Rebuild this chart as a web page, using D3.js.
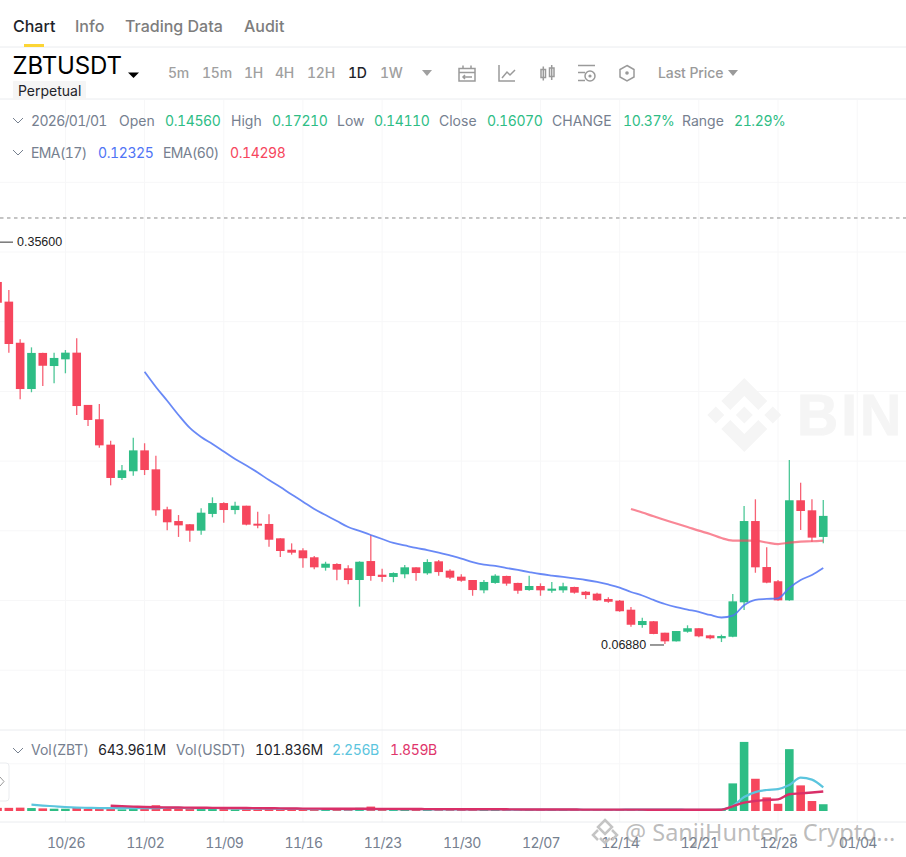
<!DOCTYPE html>
<html><head><meta charset="utf-8">
<script src="https://cdn.jsdelivr.net/npm/d3@7/dist/d3.min.js"></script>
<style>
html,body{margin:0;padding:0;background:#fff;overflow:hidden}
svg{display:block}
text{font-family:Inter,"Noto Sans",sans-serif;font-variant-numeric:tabular-nums}
</style></head><body>
<svg id="c" width="906" height="857"></svg>
<script>
const firstDate = "2025-10-20";
const open = [.3285,.3144,.2849,.2517,.2776,.2682,.2730,.2778,.2403,.2300,.2118,.1879,.1927,.2077,.1941,.1654,.1570,.1547,.1501,.1621,.1699,.1649,.1680,.1551,.1549,.1446,.1364,.1360,.1310,.1235,.1262,.1231,.1147,.1283,.1185,.1169,.1188,.1238,.1195,.1281,.1214,.1171,.1147,.1073,.1126,.1176,.1126,.1075,.1104,.1070,.1073,.1097,.1063,.1049,.1011,.0999,.0934,.0824,.0851,.0769,.0707,.0776,.0801,.0750,.0729,.0740,.0987,.1570,.1240,.1138,.1001,.1719,.1647,.1456];
const high = [.3299,.3228,.2874,.2816,.2778,.2778,.2797,.2881,.2403,.2410,.2146,.1972,.2168,.2128,.2039,.1673,.1613,.1549,.1661,.1740,.1704,.1709,.1680,.1637,.1618,.1446,.1410,.1375,.1319,.1278,.1267,.1253,.1281,.1470,.1228,.1202,.1255,.1238,.1296,.1291,.1224,.1188,.1147,.1147,.1188,.1178,.1128,.1178,.1123,.1133,.1128,.1099,.1068,.1056,.1023,.1004,.0953,.0877,.0853,.0769,.0781,.0822,.0801,.0755,.0755,.1047,.1678,.1726,.1382,.1147,.2008,.1845,.1726,.1721];
const low = [.3127,.2778,.2443,.2494,.2539,.2558,.2630,.2331,.2252,.2096,.1826,.1864,.1895,.1900,.1608,.1504,.1456,.1422,.1472,.1597,.1558,.1618,.1539,.1518,.1386,.1312,.1329,.1235,.1224,.1214,.1145,.1116,.0956,.1142,.1135,.1131,.1159,.1142,.1185,.1178,.1154,.1135,.1034,.1052,.1121,.1106,.1049,.1070,.1034,.1056,.1056,.1049,.1011,.0996,.0984,.0920,.0812,.0805,.0758,.0688,.0706,.0769,.0736,.0722,.0702,.0736,.0932,.1199,.1123,.0999,.0999,.1506,.1422,.1411];
const close = [.3136,.2840,.2517,.2776,.2684,.2740,.2778,.2395,.2295,.2113,.1879,.1934,.2077,.1936,.1647,.1561,.1539,.1501,.1630,.1699,.1649,.1680,.1544,.1537,.1436,.1355,.1343,.1303,.1238,.1264,.1221,.1147,.1278,.1176,.1169,.1197,.1238,.1197,.1276,.1204,.1164,.1142,.1075,.1133,.1178,.1121,.1070,.1104,.1073,.1085,.1102,.1056,.1039,.1001,.0991,.0923,.0826,.0853,.0760,.0707,.0781,.0801,.0743,.0729,.0745,.0994,.1570,.1238,.1128,.1001,.1719,.1642,.1451,.1607];
const ema17 = [.2641,.2532,.2433,.2331,.2238,.2173,.2123,.2069,.2015,.1969,.1918,.1864,.1814,.1760,.1709,.1656,.1613,.1570,.1527,.1499,.1470,.1441,.1413,.1395,.1377,.1362,.1344,.1323,.1301,.1276,.1258,.1248,.1233,.1219,.1204,.1190,.1179,.1169,.1158,.1147,.1133,.1115,.1093,.1061,.1036,.1004,.0975,.0953,.0935,.0918,.0896,.0878,.0891,.0966,.1004,.1011,.1016,.1090,.1147,.1183,.12325];
const ema60 = [.1656,.1631,.1604,.1578,.1552,.1527,.1501,.1477,.1448,.1430,.1429,.1429,.1416,.1405,.1415,.1422,.1425,.14298];
const volume = [.30,.30,.32,.28,.25,.22,.22,.33,.22,.24,.28,.16,.22,.20,.55,.35,.25,.22,.28,.24,.20,.15,.28,.18,.25,.22,.14,.18,.16,.12,.13,.16,.30,.42,.20,.15,.18,.16,.18,.17,.16,.14,.20,.16,.14,.14,.16,.12,.12,.10,.11,.12,.10,.12,.10,.14,.18,.10,.14,.12,.13,.10,.11,.08,.12,2.63,6.58,3.07,1.30,.69,5.89,2.44,.95,.644];
const volMaShort = [.60,.52,.45,.38,.33,.30,.28,.27,.27,.27,.27,.28,.29,.29,.28,.28,.27,.26,.24,.23,.22,.22,.21,.20,.19,.18,.17,.17,.16,.17,.18,.18,.17,.17,.17,.16,.16,.16,.15,.15,.15,.15,.14,.14,.14,.13,.13,.13,.13,.12,.12,.12,.12,.13,.13,.13,.13,.13,.12,.12,.12,.14,.48,1.33,1.8,2.0,2.09,2.47,3.18,2.99,2.256];
const volMaLong = [.50,.46,.42,.38,.36,.34,.33,.32,.31,.30,.29,.28,.28,.27,.26,.25,.24,.23,.23,.22,.22,.21,.21,.21,.20,.20,.19,.19,.18,.18,.18,.17,.17,.16,.16,.16,.15,.15,.15,.14,.14,.14,.13,.13,.13,.13,.13,.13,.12,.12,.12,.12,.12,.12,.12,.45,.79,.96,1.05,1.11,1.59,1.68,1.76,1.859];
const xTicks = ["2025-10-26","2025-11-02","2025-11-09","2025-11-16","2025-11-23","2025-11-30","2025-12-07","2025-12-14","2025-12-21","2025-12-28","2026-01-04"];
const priceGrid = [.40,.35,.30,.25,.20,.15,.10,.05];
const volGrid = [4.5];
const markLastPrice = .3744, markHigh = .356, markLow = .0688;
const tabs = ["Chart","Info","Trading Data","Audit"];
const intervals = ["5m","15m","1H","4H","12H","1D","1W"];

const GREEN="#2ebd85", RED="#f6465d", GRAY="#76808f", LINE="#eaecef", GRID="#f7f7f8";
const svg=d3.select("#c");
const parse=d3.utcParse("%Y-%m-%d"), fmt=d3.utcFormat("%m/%d");
const dates=d3.range(open.length).map(i=>d3.utcDay.offset(parse(firstDate),i));
const tickDates=xTicks.map(parse);
const x=d3.scaleUtc().domain([tickDates[0],tickDates[tickDates.length-1]]).range([65.4,857.2]);
const y=d3.scaleLinear().domain([.05,.40]).range([670.2,182.3]);
const yV=d3.scaleLinear().domain([0,7]).range([811,737.5]);

// grid
const grid=svg.append("g").attr("stroke",GRID).attr("stroke-width",1);
grid.selectAll(".v").data(tickDates).join("line").attr("x1",d=>x(d)).attr("x2",d=>x(d)).attr("y1",100).attr("y2",822);
grid.selectAll(".h").data(priceGrid).join("line").attr("x1",0).attr("x2",906).attr("y1",d=>y(d)).attr("y2",d=>y(d));
grid.selectAll(".vh").data(volGrid).join("line").attr("x1",0).attr("x2",906).attr("y1",d=>yV(d)).attr("y2",d=>yV(d));

// separators
[[47],[99],[730],[822]].forEach(([p])=>svg.append("line").attr("x1",0).attr("x2",906).attr("y1",p).attr("y2",p).attr("stroke",LINE));

// exchange watermark
const wm=svg.append("g").attr("fill","#f5f5f5").attr("transform","translate(744.3,415)");
wm.append("path").attr("d","M0,-37L23,-14L14,-5L0,-19L-14,-5L-23,-14Z M0,37L23,14L14,5L0,19L-14,5L-23,14Z M-37,0L-28.5,-8.5L-20,0L-28.5,8.5Z M37,0L28.5,-8.5L20,0L28.5,8.5Z M0,-8.5L8.5,0L0,8.5L-8.5,0Z");
svg.append("text").attr("x",797).attr("y",435).attr("font-size",57).attr("font-weight",700).attr("fill","#f5f5f5").attr("stroke","#f5f5f5").attr("stroke-width",1).style("font-family","Liberation Sans").attr("letter-spacing",3).text("BIN");

// dashed last price line
svg.append("line").attr("x1",0).attr("x2",906).attr("y1",y(markLastPrice)).attr("y2",y(markLastPrice)).attr("stroke","#8a8a8a").attr("stroke-dasharray","3.5,3.5");

// candles
const idx=d3.range(open.length), col=i=>close[i]>=open[i]?GREEN:RED;
const cg=svg.append("g");
cg.selectAll(".w").data(idx).join("line").attr("x1",i=>x(dates[i])).attr("x2",i=>x(dates[i]))
 .attr("y1",i=>y(high[i])).attr("y2",i=>y(low[i])).attr("stroke",col).attr("stroke-width",1.3).attr("stroke-opacity",.85);
cg.selectAll(".b").data(idx).join("rect").attr("x",i=>x(dates[i])-4.3).attr("width",8.6)
 .attr("y",i=>y(Math.max(open[i],close[i]))).attr("height",i=>Math.max(1.5,Math.abs(y(open[i])-y(close[i])))).attr("fill",col);

// EMA lines
const lineOf=(arr,sc)=>{const off=dates.length-arr.length;return d3.line().curve(d3.curveMonotoneX).x((d,i)=>x(dates[i+off])).y(d=>sc(d))(arr);};
svg.append("path").attr("d",lineOf(ema60,y)).attr("fill","none").attr("stroke","#f6465d").attr("stroke-opacity",.65).attr("stroke-width",2.2);
svg.append("path").attr("d",lineOf(ema17,y)).attr("fill","none").attr("stroke","#4f74f5").attr("stroke-opacity",.85).attr("stroke-width",1.8);

// volume
svg.append("g").selectAll("rect").data(idx).join("rect").attr("x",i=>x(dates[i])-4.3).attr("width",8.6)
 .attr("y",i=>yV(volume[i])).attr("height",i=>yV(0)-yV(volume[i])).attr("fill",col);
svg.append("path").attr("d",lineOf(volMaShort,yV)).attr("fill","none").attr("stroke","#5bc5de").attr("stroke-width",2.2);
svg.append("path").attr("d",lineOf(volMaLong,yV)).attr("fill","none").attr("stroke","#d92f68").attr("stroke-width",2.4);

// x axis
const ax=svg.append("g").attr("transform","translate(0,822)").call(d3.axisBottom(x).tickValues(tickDates).tickFormat(fmt).tickSize(0).tickPadding(16));
ax.select(".domain").remove();
ax.selectAll("text").attr("font-size",14).attr("fill",GRAY).attr("letter-spacing",-.7).style("font-family","Inter");

// helper
const T=(s,px,py,o={})=>svg.append("text").attr("x",px).attr("y",py).attr("font-size",o.size||14).attr("fill",o.fill||GRAY)
 .attr("font-weight",o.w||400).attr("text-anchor",o.anchor||"start").attr("letter-spacing",o.ls||0).style("font-family",o.font||null).text(s);

// tabs
const tabX=[13,75,125,244];
tabs.forEach((t,i)=>T(t,tabX[i],32,{size:16,fill:i?"#7d7d7d":"#1e2329",w:500}));
svg.append("rect").attr("x",24).attr("y",44).attr("width",20).attr("height",3).attr("fill","#fcd535");

// symbol
T("ZBTUSDT",12.5,74,{size:24,fill:"#000",ls:-.15});
svg.append("path").attr("d","M128,72.5H139L133.5,78Z").attr("fill","#000");
svg.append("rect").attr("x",13).attr("y",81).attr("width",73).attr("height",19).attr("fill","#f5f5f5").attr("rx",1);
T("Perpetual",18,96,{size:14,fill:"#1e2329"});

// intervals
const intX=[168,202,244,275,307,348,380];
intervals.forEach((t,i)=>T(t,intX[i],78,{size:14,fill:t==="1D"?"#1e2329":"#a0a0a0",w:500,ls:-.2}));
svg.append("path").attr("d","M422,70H432L427,76Z").attr("fill","#a0a0a0");

// toolbar icons
const ic=svg.append("g").attr("fill","none").attr("stroke","#9a9a9a").attr("stroke-width",1.5);
ic.append("path").attr("d","M459,68.5H475V81H459Z M459,72.5H475 M463,65.5V69 M471,65.5V69 M472,77H463 M465,75L463,77L465,79");
ic.append("path").attr("d","M499,65V81H515 M502,78L507,72L510,75L515,70");
ic.append("path").attr("d","M541,69.5H545.5V77.5H541Z M543.3,66.5V80.5 M549.5,68H554V76.5H549.5Z M551.7,65V80");
ic.append("path").attr("d","M578,65.5H595 M578,72.5H585 M578,80.5H585");
ic.append("circle").attr("cx",590).attr("cy",76).attr("r",5);
ic.append("path").attr("d","M627,65.5L634,69.5V77L627,81L620,77V69.5Z");
svg.append("circle").attr("cx",590).attr("cy",76).attr("r",1.6).attr("fill","#9a9a9a");
svg.append("circle").attr("cx",627).attr("cy",73).attr("r",1.8).attr("fill","#9a9a9a");
T("Last Price",658,78,{size:14,fill:"#9a9a9a",w:500,ls:-.1});
svg.append("path").attr("d","M728,70H738L733,76Z").attr("fill","#9a9a9a");

// chevrons
[[13,118],[13,150],[13,748]].forEach(([a,b])=>svg.append("path").attr("d",`M${a},${b}L${a+5},${b+5}L${a+10},${b}`).attr("fill","none").attr("stroke",GRAY).attr("stroke-width",1));

// legend rows
const NUM=-.4;
T("2026/01/01",31,126,{ls:-.7});
[["Open",119],["High",231],["Low",337],["Close",439],["CHANGE",552],["Range",682]].forEach(([s,a])=>T(s,a,126));
[["0.14560",165],["0.17210",272],["0.14110",374],["0.16070",487],["10.37%",623],["21.29%",734]].forEach(([s,a])=>T(s,a,126,{fill:GREEN,ls:NUM}));
T("EMA(17)",31,158,{ls:-.6});T("0.12325",98,158,{fill:"#4f74f5",ls:NUM});T("EMA(60)",163,158,{ls:-.6});T("0.14298",230,158,{fill:RED,ls:NUM});
T("Vol(ZBT)",31,755);T("643.961M",98,755,{fill:"#1e2329",ls:NUM});T("Vol(USDT)",176,755);T("101.836M",255,755,{fill:"#1e2329",ls:NUM});
T("2.256B",332,755,{fill:"#5bc5de",ls:NUM});T("1.859B",390,755,{fill:"#e0356b",ls:NUM});

// extreme labels
svg.append("line").attr("x1",0).attr("x2",13).attr("y1",y(markHigh)-1.5).attr("y2",y(markHigh)-1.5).attr("stroke","#333");
T("0.35600",17,y(markHigh)+2.5,{size:12.5,fill:"#222",font:"Liberation Sans"});
svg.append("line").attr("x1",650).attr("x2",664).attr("y1",y(markLow)+1).attr("y2",y(markLow)+1).attr("stroke","#333");
T("0.06880",601,y(markLow)+5,{size:12.5,fill:"#222",font:"Liberation Sans"});

// side handle
svg.append("path").attr("d","M-1,763H6Q9,763,9,766V798Q9,801,6,801H-1").attr("fill","#fff").attr("stroke",LINE);
svg.append("path").attr("d","M0,777L4,781.5L0,786").attr("fill","none").attr("stroke","#999");

// bottom watermark
const wb=svg.append("g").attr("transform","translate(605,832)").attr("fill","none").attr("stroke","#c4c4c4").attr("stroke-width",2.5);
wb.append("path").attr("d","M0,-12L7,-5L0,2L-7,-5Z M-7,-2L-12,3L-7,8 M7,-2L12,3L7,8 M-5,6L0,11L5,6");
T("@ SanjiHunter - Crypto...",625,841,{size:23.5,fill:"#8f8f8f",font:"Noto Sans"}).attr("fill-opacity",.6);
</script></body></html>
